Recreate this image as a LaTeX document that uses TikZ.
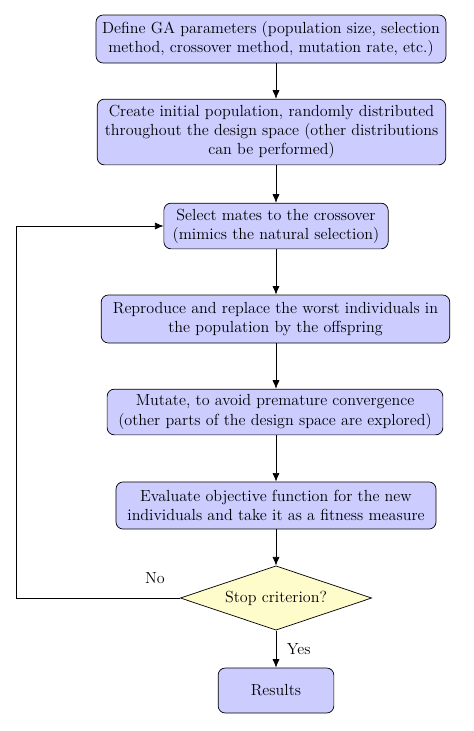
\documentclass[tikz,border=0pt]{standalone}
\usetikzlibrary{shapes.geometric,arrows.meta}
\begin{document}
\begin{tikzpicture}[x=0.7pt,y=-0.7pt, line width=0.5pt,
  every node/.style={font=\fontsize{11.25}{13.4}\selectfont},
  procbox/.style={draw, rounded corners=5pt, fill=blue!20, align=center, inner xsep=2pt, inner ysep=3pt},
  decbox/.style={draw, diamond, aspect=3, fill=yellow!20, minimum width=134pt, minimum height=45pt, inner sep=1pt},
  arr/.style={-{Latex[length=6pt,width=5pt]}}]
\useasboundingbox (0,0) rectangle (474,731);
\coordinate (ax) at (276,0);
\node[procbox, minimum width=245pt, minimum height=33.6pt] (p1) at (271,39) {Define GA parameters (population size, selection\\method, crossover method, mutation rate, etc.)};
\node[procbox, minimum width=244pt, minimum height=46pt] (p2) at (271.5,132) {Create initial population, randomly distributed\\throughout the design space (other distributions\\can be performed)};
\node[procbox, minimum width=157pt, minimum height=32pt] (p3) at (276,226) {Select mates to the crossover\\(mimics the natural selection)};
\node[procbox, minimum width=244pt, minimum height=33.6pt] (p4) at (275.5,319) {Reproduce and replace the worst individuals in\\the population by the offspring};
\node[procbox, minimum width=235pt, minimum height=32pt] (p5) at (275,412) {Mutate, to avoid premature convergence\\(other parts of the design space are explored)};
\node[procbox, minimum width=224pt, minimum height=33pt] (p6) at (276,505.5) {Evaluate objective function for the new\\individuals and take it as a fitness measure};
\node[decbox] (d) at (276,598) {Stop criterion?};
\node[procbox, minimum width=81pt, minimum height=31.5pt] (r) at (276,690.5) {Results};
\coordinate (c1) at (16,598);
\coordinate (c2) at (16,226);
\draw[arr] (p1.south -| ax) -- (p2.north -| ax);
\draw[arr] (p2.south -| ax) -- (p3.north -| ax);
\draw[arr] (p3.south -| ax) -- (p4.north -| ax);
\draw[arr] (p4.south -| ax) -- (p5.north -| ax);
\draw[arr] (p5.south -| ax) -- (p6.north -| ax);
\draw[arr] (p6.south -| ax) -- (d.north);
\draw[arr] (d.south) -- node[right, xshift=4pt] (yes) {Yes} (r.north);
\draw[arr] (d.west) -- (c1) -- (c2) -- (p3.west);
\node (no) at (155,578) {No};
\end{tikzpicture}
\end{document}
